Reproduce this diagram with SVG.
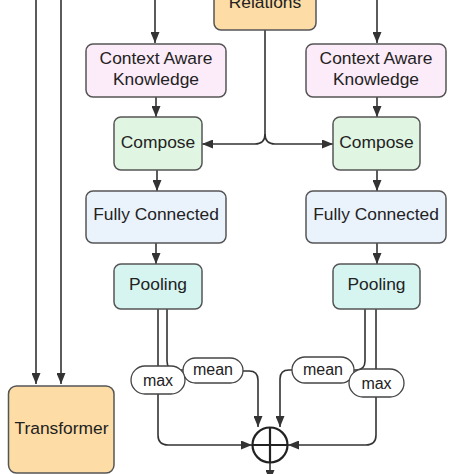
<svg xmlns="http://www.w3.org/2000/svg" width="474" height="474" viewBox="0 0 474 474">
<defs>
<marker id="ah" viewBox="0 0 11 9" refX="11" refY="4.5" markerWidth="11" markerHeight="9" markerUnits="userSpaceOnUse" orient="auto">
<path d="M0,0 L11,4.5 L0,9 z" fill="#333"/>
</marker>
<style>
.box{stroke:#555;stroke-width:1.5}
.t{font-family:"Liberation Sans",Arial,sans-serif;font-size:17.4px;fill:#222;text-anchor:middle}
.l{font-family:"Liberation Sans",Arial,sans-serif;font-size:16px;fill:#222;text-anchor:middle}
.c{fill:none;stroke:#333;stroke-width:1.6}
.a{marker-end:url(#ah)}
.pill{fill:#fff;stroke:#444;stroke-width:1.3}
.cak{fill:#FCEBF8}
.cmp{fill:#E0F6E2}
.fc{fill:#EAF2FC}
.pool{fill:#D6F5F0}
.org{fill:#FDDCA5}
</style>
</defs>
<rect width="474" height="474" fill="#fff"/>
<g id="connectors">
<path class="c a" d="M36,0 V384"/>
<path class="c a" d="M61,0 V384"/>
<path class="c a" d="M155,0 V43"/>
<path class="c a" d="M377,0 V43"/>
<path class="c a" d="M156,97 V117"/>
<path class="c a" d="M377,97 V117"/>
<path class="c a" d="M265,30 V134 Q265,144 255,144 H202"/>
<path class="c a" d="M265,134 Q265,144 275,144 H333"/>
<path class="c a" d="M157,170 V191"/>
<path class="c a" d="M377,170 V191"/>
<path class="c a" d="M156,243 V264"/>
<path class="c a" d="M377,243 V264"/>
<path class="c" d="M167,309 V361 Q167,370 176,370 H184"/>
<path class="c a" d="M158,309 V435 Q158,445 168,445 H252"/>
<path class="c a" d="M243,371 H249 Q258,371 258,380 V427"/>
<path class="c" d="M365,309 V361 Q365,370 356,370 H353"/>
<path class="c a" d="M376,309 V435 Q376,445 366,445 H288"/>
<path class="c a" d="M293,370 H289 Q280,370 280,379 V427"/>
<path class="c a" d="M270,462 V481"/>
</g>
<g id="relations">
<rect class="box org" x="214" y="-12" width="102" height="42" rx="7"/>
<text class="t" x="265" y="8">Relations</text>
</g>
<g id="transformer">
<rect class="box org" x="8.5" y="386" width="105.5" height="87" rx="8"/>
<text class="t" x="61.5" y="434">Transformer</text>
</g>
<g id="cak-left">
<rect class="box cak" x="86" y="44" width="140" height="53" rx="7"/>
<text class="t" x="156" y="64">Context Aware</text>
<text class="t" x="156" y="85">Knowledge</text>
</g>
<g id="cak-right">
<rect class="box cak" x="306" y="44" width="140" height="53" rx="7"/>
<text class="t" x="376" y="64">Context Aware</text>
<text class="t" x="376" y="85">Knowledge</text>
</g>
<g id="compose-left">
<rect class="box cmp" x="114" y="117" width="88" height="53" rx="7"/>
<text class="t" x="158" y="148">Compose</text>
</g>
<g id="compose-right">
<rect class="box cmp" x="333" y="117" width="87" height="53" rx="7"/>
<text class="t" x="376.5" y="148">Compose</text>
</g>
<g id="fc-left">
<rect class="box fc" x="86" y="191" width="140" height="52" rx="7"/>
<text class="t" x="156" y="220">Fully Connected</text>
</g>
<g id="fc-right">
<rect class="box fc" x="306" y="191" width="140" height="52" rx="7"/>
<text class="t" x="376" y="220">Fully Connected</text>
</g>
<g id="pool-left">
<rect class="box pool" x="114" y="264" width="88" height="45" rx="7"/>
<text class="t" x="158" y="290">Pooling</text>
</g>
<g id="pool-right">
<rect class="box pool" x="333" y="264" width="87" height="45" rx="7"/>
<text class="t" x="376.5" y="290">Pooling</text>
</g>
<g id="mean-left">
<rect class="pill" x="183" y="358" width="60" height="25" rx="12.5"/>
<text class="l" x="213" y="375">mean</text>
</g>
<g id="max-left">
<rect class="pill" x="131" y="366" width="54" height="28" rx="14"/>
<text class="l" x="158" y="385.5">max</text>
</g>
<g id="mean-right">
<rect class="pill" x="292" y="357" width="62" height="26" rx="13"/>
<text class="l" x="323" y="375">mean</text>
</g>
<g id="max-right">
<rect class="pill" x="349" y="369" width="55" height="28" rx="14"/>
<text class="l" x="376.5" y="388.5">max</text>
</g>
<g id="sum">
<circle cx="270" cy="445" r="17.5" fill="#fff" stroke="#222" stroke-width="2.2"/>
<path d="M252.5,445 H287.5 M270,427.5 V462.5" stroke="#222" stroke-width="2.2" fill="none"/>
</g>
</svg>
